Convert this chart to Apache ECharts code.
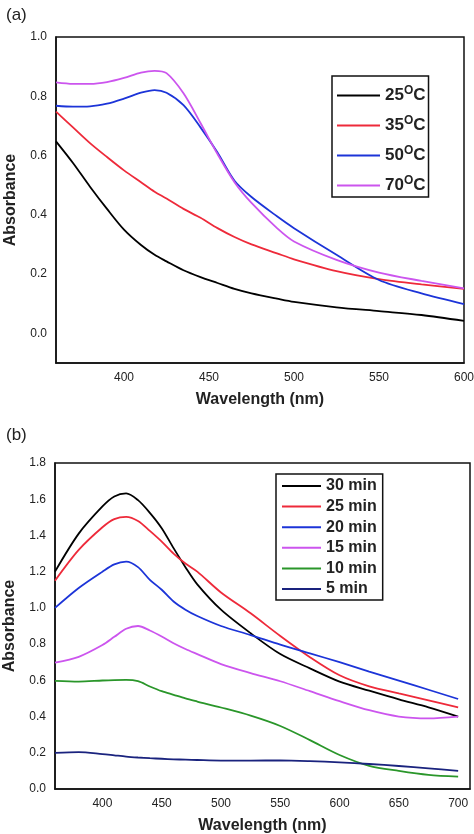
<!DOCTYPE html>
<html>
<head>
<meta charset="utf-8">
<title>Absorbance spectra</title>
<script src="https://cdn.jsdelivr.net/npm/echarts@6/dist/echarts.min.js"></script>
<style>
html,body{margin:0;padding:0;background:#fff;}
#main{width:474px;height:834px;}
</style>
</head>
<body>
<div id="main"></div>
<script>
// (a) temperature series
var wlA = [360,370,380,390,400,410,418,425,435,445,455,465,475,490,500,525,550,575,600];
var namesA = ['25', '35', '50', '70'];
var t25 = [0.648,0.575,0.495,0.42,0.35,0.298,0.265,0.243,0.213,0.19,0.17,0.15,0.135,0.117,0.106,0.088,0.075,0.062,0.042];
var t35 = [0.748,0.695,0.642,0.595,0.55,0.51,0.478,0.455,0.42,0.39,0.355,0.325,0.30,0.27,0.25,0.21,0.183,0.165,0.15];
var t50 = [0.768,0.765,0.766,0.775,0.792,0.812,0.821,0.812,0.77,0.695,0.61,0.515,0.46,0.395,0.355,0.265,0.18,0.135,0.099];
var t70 = [0.847,0.842,0.842,0.848,0.862,0.88,0.886,0.878,0.81,0.71,0.605,0.51,0.44,0.355,0.31,0.248,0.205,0.177,0.152];

// (b) time series
var wlB = [360,380,400,410,420,430,440,450,460,470,480,500,525,550,575,600,625,650,675,700];
var namesB = ['30 min', '25 min', '20 min', '15 min', '10 min', '5 min'];
var m30 = [1.20,1.41,1.56,1.615,1.632,1.595,1.525,1.44,1.33,1.225,1.13,0.99,0.86,0.745,0.666,0.593,0.543,0.495,0.451,0.40];
var m25 = [1.15,1.32,1.445,1.49,1.503,1.48,1.425,1.366,1.30,1.245,1.20,1.085,0.97,0.845,0.728,0.628,0.567,0.528,0.49,0.451];
var m20 = [1.0,1.11,1.20,1.24,1.255,1.225,1.155,1.10,1.035,0.99,0.955,0.90,0.85,0.797,0.749,0.70,0.648,0.598,0.548,0.497];
var m15 = [0.698,0.73,0.795,0.84,0.885,0.90,0.875,0.842,0.805,0.773,0.745,0.69,0.64,0.595,0.54,0.485,0.435,0.40,0.39,0.40];
var m10 = [0.597,0.593,0.599,0.601,0.602,0.595,0.566,0.54,0.52,0.50,0.483,0.45,0.405,0.348,0.27,0.188,0.128,0.10,0.078,0.068];
var m5 = [0.20,0.204,0.193,0.186,0.179,0.174,0.17,0.167,0.164,0.162,0.16,0.157,0.157,0.158,0.154,0.147,0.138,0.127,0.114,0.10];

var colorsA = ['#000000', '#ee2a3a', '#1c34d8', '#cc55ee'];
var colorsB = ['#000000', '#ee2a3a', '#1c34d8', '#cc55ee', '#2a962a', '#1a237e'];

var FONT = 'Liberation Sans, Arial, sans-serif';

function pairs(xs, ys){
    var out = [];
    for(var i = 0; i < xs.length; i++){
        out.push([xs[i], ys[i]]);
    }
    return out;
}

function makeSeries(name, xs, ys, color, idx){
    return {
        name: name,
        type: 'line',
        xAxisIndex: idx,
        yAxisIndex: idx,
        data: pairs(xs, ys),
        smooth: 0.3,
        symbol: 'none',
        lineStyle: {color: color, width: 1.8},
        itemStyle: {color: color},
        z: 3
    };
}

var series = [];
var seriesA = [t25, t35, t50, t70];
for(var i = 0; i < namesA.length; i++){
    series.push(makeSeries(namesA[i], wlA, seriesA[i], colorsA[i], 0));
}
var seriesB = [m30, m25, m20, m15, m10, m5];
for(var j = 0; j < namesB.length; j++){
    series.push(makeSeries(namesB[j], wlB, seriesB[j], colorsB[j], 1));
}

var axisLabelStyle = {fontFamily: FONT, fontSize: 12, color: '#222'};
var nameStyle = {fontFamily: FONT, fontSize: 16, fontWeight: 'bold', color: '#222'};

function xAxis(idx, max){
    return {
        type: 'value', gridIndex: idx, min: 360, max: max, interval: 10,
        name: 'Wavelength (nm)', nameLocation: 'middle', nameGap: 29,
        nameTextStyle: nameStyle,
        axisLine: {show: true, onZero: false, lineStyle: {color: '#111', width: 1.5}},
        axisTick: {show: false},
        splitLine: {show: false},
        axisLabel: Object.assign({margin: 9, formatter: function(v){
            return (Math.round(v) % 50 === 0) ? String(Math.round(v)) : '';
        }}, axisLabelStyle)
    };
}

function yAxis(idx, min, max, interval, step){
    return {
        type: 'value', gridIndex: idx, min: min, max: max, interval: interval,
        name: 'Absorbance', nameLocation: 'middle', nameGap: 37,
        nameTextStyle: nameStyle,
        axisLine: {show: true, onZero: false, lineStyle: {color: '#111', width: 1.5}},
        axisTick: {show: false},
        splitLine: {show: false},
        axisLabel: Object.assign({margin: 9, formatter: function(v){
            var r = Math.round(v * 10);
            return (r >= 0 && r % step === 0) ? (r / 10).toFixed(1) : '';
        }}, axisLabelStyle)
    };
}

var myChart = echarts.init(document.getElementById('main'), null, {renderer: 'canvas'});
var option = {
    backgroundColor: '#fff',
    animation: false,
    title: [
        {text: '(a)', left: 1, top: 2, textStyle: {fontFamily: FONT, fontSize: 17, fontWeight: 'normal', color: '#222'}},
        {text: '(b)', left: 1, top: 422, textStyle: {fontFamily: FONT, fontSize: 17, fontWeight: 'normal', color: '#222'}}
    ],
    grid: [
        {left: 56, top: 37, width: 408, height: 326, outerBoundsMode: 'none', show: true,
            borderColor: '#111', borderWidth: 1.5, backgroundColor: 'transparent'},
        {left: 55, top: 463, width: 415, height: 326, outerBoundsMode: 'none', show: true,
            borderColor: '#111', borderWidth: 1.5, backgroundColor: 'transparent'}
    ],
    xAxis: [xAxis(0, 600), xAxis(1, 710)],
    yAxis: [yAxis(0, -0.1, 1.0, 0.1, 2), yAxis(1, 0, 1.8, 0.2, 2)],
    legend: [
        {
            data: namesA, orient: 'vertical', left: 332, top: 76,
            padding: [9, 3, 3, 5], icon: 'rect', itemWidth: 43, itemHeight: 2, itemGap: 11,
            borderColor: '#111', borderWidth: 1.5, backgroundColor: '#fff',
            formatter: function(name){ return '{n|' + name + '}{s|O}{n|C}'; },
            textStyle: {
                fontFamily: FONT, color: '#222',
                rich: {
                    n: {fontFamily: FONT, fontSize: 17, fontWeight: 'bold', color: '#222'},
                    s: {fontFamily: FONT, fontSize: 12, fontWeight: 'bold', color: '#222', padding: [0, 0, 9, 0]}
                }
            }
        },
        {
            data: namesB, orient: 'vertical', left: 276, top: 474,
            padding: [4, 6, 3, 6], icon: 'rect', itemWidth: 39, itemHeight: 2, itemGap: 4.6,
            borderColor: '#111', borderWidth: 1.5, backgroundColor: '#fff',
            textStyle: {fontFamily: FONT, fontSize: 16, fontWeight: 'bold', color: '#222'}
        }
    ],
    series: series
};
myChart.setOption(option);
</script>
</body>
</html>
